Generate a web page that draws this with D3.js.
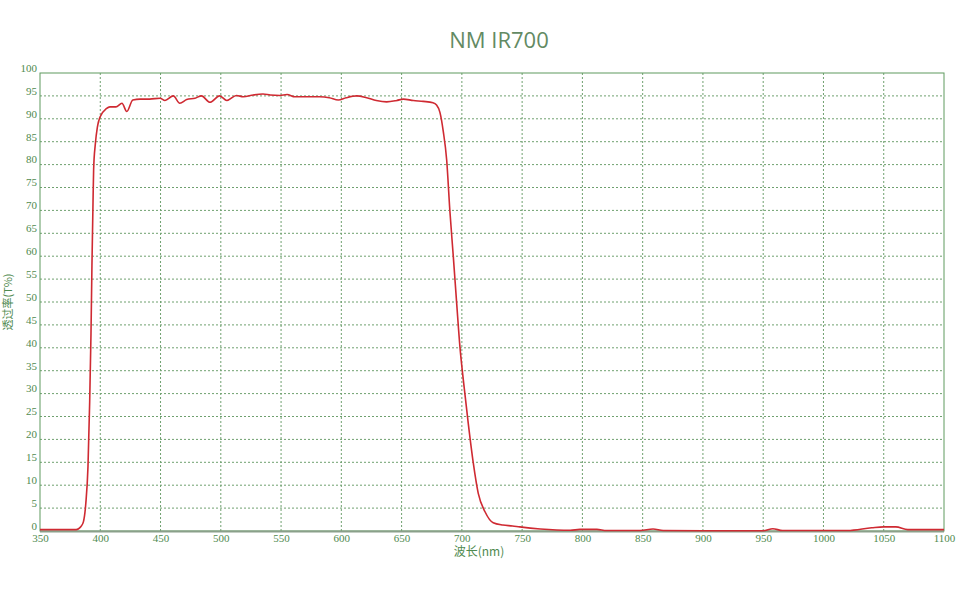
<!DOCTYPE html>
<html>
<head>
<meta charset="utf-8">
<script src="https://cdn.jsdelivr.net/npm/d3@7"></script>
<style>
  html, body { margin: 0; padding: 0; background: #ffffff; }
  svg { display: block; }
</style>
</head>
<body>
<svg id="chart" width="960" height="596"></svg>
<script>
const title = "NM IR700";
const xLabel = "波长(nm)";
const yLabel = "透过率(T%)";
const xTicks = [350,400,450,500,550,600,650,700,750,800,850,900,950,1000,1050,1100];
const yTicks = [0,5,10,15,20,25,30,35,40,45,50,55,60,65,70,75,80,85,90,95,100];

const wavelength = [350,370,380,382,384,386,388,389.8,391.2,392.3,393.1,394,394.5,395.9,397.6,399.8,405,408,413,418,422,427,433,441,449.6,453.7,460.6,466,471.7,478.6,484,491,499,505,513,518.7,527,535,541,549,555,561.5,568,582,590,597.5,604,612.7,621,629,637.6,646,651.4,659.7,668,676,679,681.8,684.6,687.4,690,692.9,695.7,698.4,701.2,705.3,709.5,713.6,719.2,726,734,742,748,765,790,798,812,820,848,858.6,867,900,950,958,966,1020,1040,1050,1060,1070,1100];
const transmittance = [0.3,0.3,0.3,0.5,1.0,2.0,6,14,28,43,58,72,79,84.5,88.2,90.4,92.2,92.6,92.6,93.4,91.6,94.1,94.3,94.3,94.5,94.0,95.0,93.4,94.2,94.5,95.0,93.6,95.0,94.0,95.1,94.8,95.2,95.4,95.2,95.1,95.3,94.8,94.8,94.8,94.6,94.1,94.6,95.0,94.6,94.0,93.7,94.0,94.3,94.0,93.8,93.5,93.0,91.4,87.2,81,70.1,59.9,49.7,40.2,33.0,23.5,14.8,8.2,4.2,1.8,1.3,1.1,0.9,0.45,0.15,0.35,0.35,0.1,0.1,0.45,0.1,0.05,0.05,0.5,0.1,0.1,0.7,0.9,0.9,0.3,0.3];

const svg = d3.select("#chart");
const L = 40, R = 944, T = 73, B = 531;
const x = d3.scaleLinear().domain([350,1100]).range([L,R]);
const y = d3.scaleLinear().domain([0,100]).range([B,T]);

const gridColor = "#6fa06f";
const textColor = "#4f8a4f";

// title
svg.append("text").attr("x", 499).attr("y", 48).attr("text-anchor","middle")
  .attr("font-family","'Open Sans', 'Noto Sans', sans-serif").attr("font-size",22)
  .attr("fill","#638a63").text(title);

// grid
svg.append("g").selectAll("line").data(xTicks.slice(1,-1)).join("line")
  .attr("x1", d=>x(d)).attr("x2", d=>x(d)).attr("y1", T).attr("y2", B)
  .attr("stroke", gridColor).attr("stroke-width",1).attr("stroke-dasharray","2,2");
svg.append("g").selectAll("line").data(yTicks.slice(1,-1)).join("line")
  .attr("y1", d=>y(d)).attr("y2", d=>y(d)).attr("x1", L).attr("x2", R)
  .attr("stroke", gridColor).attr("stroke-width",1).attr("stroke-dasharray","2,2");

// frame
svg.append("rect").attr("x",L).attr("y",T).attr("width",R-L).attr("height",B-T)
  .attr("fill","none").attr("stroke","#5f9a5f").attr("stroke-width",1);
svg.append("line").attr("x1",L).attr("x2",R).attr("y1",B+0.5).attr("y2",B+0.5)
  .attr("stroke","#8aa08a").attr("stroke-width",2);

// axes (labels only)
const xAxis = d3.axisBottom(x).tickValues(xTicks).tickSize(0).tickPadding(3).tickFormat(d3.format("d"));
const gx = svg.append("g").attr("transform",`translate(0,${B})`).call(xAxis);
gx.select(".domain").remove();
gx.selectAll("text").attr("fill",textColor).attr("font-family","'Liberation Serif', serif").attr("font-size",11);

const yAxis = d3.axisLeft(y).tickValues(yTicks).tickSize(0).tickPadding(3).tickFormat(d3.format("d"));
const gy = svg.append("g").attr("transform",`translate(${L},0)`).call(yAxis);
gy.select(".domain").remove();
gy.selectAll("text").attr("fill",textColor).attr("font-family","'Liberation Serif', serif").attr("font-size",11).attr("dy","-0.15em");

// axis titles
svg.append("text").attr("x",479).attr("y",556).attr("text-anchor","middle")
  .attr("font-family","'Noto Sans CJK SC', serif").attr("font-size",12).attr("fill",textColor).text(xLabel);
svg.append("text").attr("transform","translate(12,302) rotate(-90)").attr("text-anchor","middle")
  .attr("font-family","'Noto Sans CJK SC', serif").attr("font-size",11).attr("fill",textColor).text(yLabel);

// curve
const data = wavelength.map((w,i)=>({w, t: transmittance[i]}));
const line = d3.line().x(d=>x(d.w)).y(d=>y(d.t)).curve(d3.curveMonotoneX);
svg.append("path").datum(data).attr("d", line).attr("fill","none")
  .attr("stroke","#cf2a32").attr("stroke-width",1.6).attr("stroke-linejoin","round");
</script>
</body>
</html>
